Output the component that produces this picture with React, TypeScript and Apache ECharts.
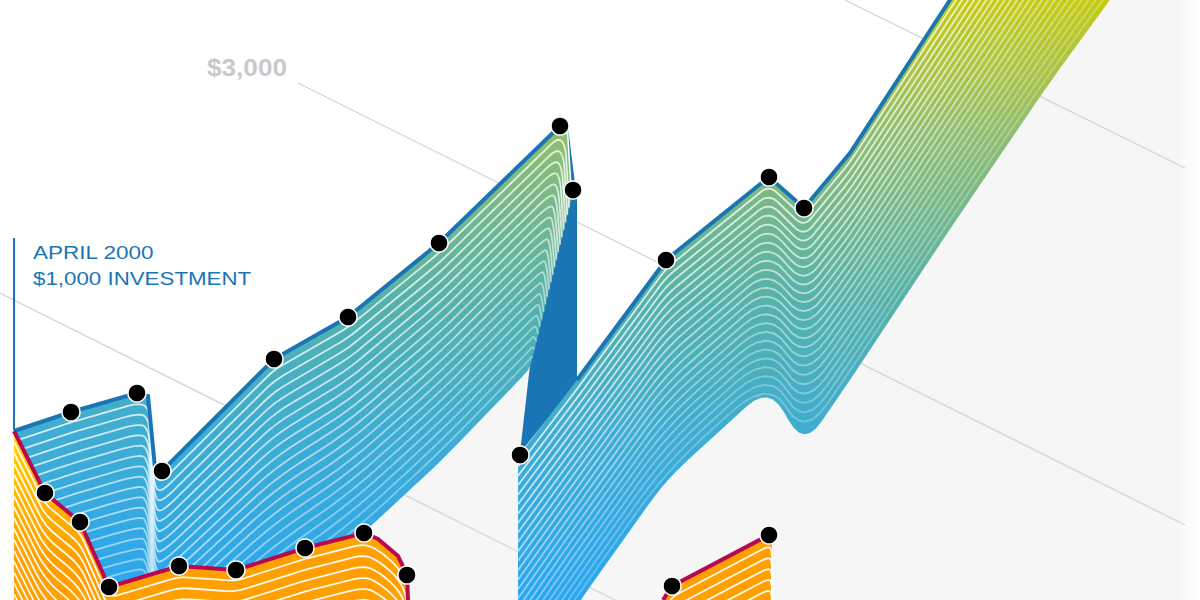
import React, { useEffect, useRef } from "react";
import * as echarts from "echarts";

type P = number[];

const valueLabel = "$3,000";
const noteLines = ["APRIL 2000", "$1,000 INVESTMENT"];

const gridLine1: P[] = [[845, 0], [1185, 168]];
const gridLine2: P[] = [[298, 83], [1185, 525]];
const gridLine3: P[] = [[0, 293], [615, 600]];
const startRule: P[] = [[14, 238], [14, 430]];

const floorOutline: P[] = [[360, 530], [530, 365], [520, 455], [577, 380], [666, 260], [769, 177], [804, 208], [850, 153], [950, 0], [1200, 0], [1200, 600], [360, 600]];

const ribbonATop: P[] = [[14, 431], [71, 412], [137, 393], [148, 396], [155, 468], [162, 471], [274, 359], [348, 317], [439, 243], [560, 126], [567, 135], [571, 200]];
const ribbonABottom: P[] = [[14, 660], [71, 640], [137, 620], [148, 622], [155, 694], [162, 696], [274, 600], [348, 547], [439, 463], [527, 372], [529, 368], [531, 364]];
const wedge: P[] = [[568, 127], [577, 200], [577, 382], [520, 453], [530, 365], [572, 190]];

const ribbonBTop: P[] = [[518, 457], [577, 380], [666, 260], [769, 177], [804, 208], [850, 153], [950, 0], [1050, -153], [1150, -306]];
const ribbonBBottom: P[] = [[518, 693], [577, 605], [666, 480], [769, 386], [804, 447], [850, 380], [950, 229], [1050, 82], [1150, -55]];

const orangeATop: P[] = [[14, 431], [45, 493], [80, 522], [109, 587], [179, 566], [236, 570], [305, 548], [364, 533], [378, 539], [398, 556], [407, 575], [408, 620]];
const orangeBTop: P[] = [[663, 600], [672, 586], [769, 535], [772, 540], [772, 620]];
const orangeDepth = 250;

const blueLineA: P[] = [[14, 431], [71, 412], [137, 393], [148, 396], [155, 468], [162, 471], [274, 359], [348, 317], [439, 243], [560, 126], [569, 128]];
const blueLineB: P[] = [[577, 380], [666, 260], [769, 177], [804, 208], [850, 153], [950, 0], [970, -30]];
const crimsonLineA: P[] = [[14, 431], [45, 493], [80, 522], [109, 587], [179, 566], [236, 570], [305, 548], [364, 533], [378, 539], [398, 556], [407, 575], [408, 600]];
const crimsonLineB: P[] = [[663, 600], [672, 586], [769, 535]];

const blueMarkers: P[] = [[71, 412], [137, 393], [162, 471], [274, 359], [348, 317], [439, 243], [560, 126], [573, 190], [520, 455], [666, 260], [769, 177], [804, 208]];
const crimsonMarkers: P[] = [[45, 493], [80, 522], [109, 587], [179, 566], [236, 570], [305, 548], [364, 533], [407, 575], [672, 586], [769, 535]];

const BLUE = "#1a75b5";
const CRIMSON = "#b8084f";

const blueFill = {
  type: "linear", x: 0, y: 0, x2: 0, y2: 600, global: true,
  colorStops: [
    { offset: 0, color: "#c6cb14" },
    { offset: 0.22, color: "#90be70" },
    { offset: 0.5, color: "#55b2aa" },
    { offset: 0.72, color: "#3fadd2" },
    { offset: 1, color: "#2aa6f0" },
  ],
};
const orangeFill = {
  type: "linear", x: 0, y: 430, x2: 0, y2: 560, global: true,
  colorStops: [
    { offset: 0, color: "#ffd800" },
    { offset: 0.6, color: "#ffb000" },
    { offset: 1, color: "#ff9f00" },
  ],
};
const floorFill = {
  type: "linear", x: 1178, y: 0, x2: 1200, y2: 0, global: true,
  colorStops: [
    { offset: 0, color: "#f6f6f7" },
    { offset: 1, color: "#ffffff" },
  ],
};

function roundCorners(pts: P[], d: number): P[] {
  if (d < 0.5) return pts;
  const out: P[] = [pts[0]];
  for (let i = 1; i < pts.length - 1; i++) {
    const [ax, ay] = pts[i - 1], [bx, by] = pts[i], [cx, cy] = pts[i + 1];
    const l1 = Math.hypot(bx - ax, by - ay), l2 = Math.hypot(cx - bx, cy - by);
    const d1 = Math.min(d, l1 / 2), d2 = Math.min(d, l2 / 2);
    const sx = bx - ((bx - ax) / l1) * d1, sy = by - ((by - ay) / l1) * d1;
    const ex = bx + ((cx - bx) / l2) * d2, ey = by + ((cy - by) / l2) * d2;
    for (let s = 0; s <= 6; s++) {
      const u = s / 6, v = 1 - u;
      out.push([v * v * sx + 2 * u * v * bx + u * u * ex, v * v * sy + 2 * u * v * by + u * u * ey]);
    }
  }
  out.push(pts[pts.length - 1]);
  return out;
}

function ribbon(top: P[], bottom: P[], count: number, fill: any, z: number, rounding: number, alphaTop: number, alphaBottom: number) {
  const items = Array.from({ length: count + 1 }, (_, i) => [i, i]);
  return {
    type: "custom",
    coordinateSystem: "cartesian2d",
    silent: true,
    z,
    data: items,
    encode: { x: 0, y: 1 },
    renderItem: (params: any, api: any) => {
      const i = params.dataIndex;
      if (i === 0) {
        const outline = [...top, ...roundCorners(bottom, rounding).slice().reverse()];
        return {
          type: "polygon",
          shape: { points: outline.map((p) => api.coord(p)) },
          style: { fill, stroke: "none" },
        };
      }
      const t = i / (count + 1);
      const mixed = top.map((p, n) => [p[0] + (bottom[n][0] - p[0]) * t, p[1] + (bottom[n][1] - p[1]) * t]);
      const rounded = roundCorners(mixed, 8 + t * rounding * 1.5);
      return {
        type: "polyline",
        shape: { points: rounded.map((p) => api.coord(p)) },
        style: { fill: "none", stroke: "#ffffff", lineWidth: 1.8, opacity: alphaTop + (alphaBottom - alphaTop) * t },
      };
    },
  };
}

function flatShape(points: P[], fill: any, z: number) {
  return {
    type: "custom",
    coordinateSystem: "cartesian2d",
    silent: true,
    z,
    data: [[0, 0]],
    encode: { x: 0, y: 1 },
    renderItem: (_: any, api: any) => ({
      type: "polygon",
      shape: { points: points.map((p) => api.coord(p)) },
      style: { fill, stroke: "none" },
    }),
  };
}

function stroke(data: P[], color: string, width: number, z: number) {
  return {
    type: "line", data, z, silent: true, symbol: "none",
    lineStyle: { color, width, join: "miter" },
  };
}

function markers(data: P[]) {
  return {
    type: "scatter", data, z: 20, silent: true, symbol: "circle", symbolSize: 18,
    itemStyle: { color: "#000000", borderColor: "#ffffff", borderWidth: 1.5, opacity: 1 },
  };
}

const below = (pts: P[]) => pts.map((p) => [p[0], p[1] + orangeDepth]);

export default function App() {
  const ref = useRef<HTMLDivElement>(null);
  useEffect(() => {
    document.body.style.margin = "0";
    const chart = echarts.init(ref.current!, undefined, { renderer: "svg" });
    chart.setOption({
      animation: false,
      backgroundColor: "#ffffff",
      grid: { left: 0, right: 0, top: 0, bottom: 0 },
      xAxis: { type: "value", min: 0, max: 1200, show: false },
      yAxis: { type: "value", min: 0, max: 600, inverse: true, show: false },
      series: [
        flatShape(floorOutline, floorFill, 1),
        stroke(gridLine1, "#d2d2d5", 1.2, 2),
        stroke(gridLine2, "#d2d2d5", 1.2, 2),
        stroke(gridLine3, "#d2d2d5", 1.2, 2),
        flatShape(wedge, BLUE, 3),
        ribbon(ribbonATop, ribbonABottom, 21, blueFill, 4, 30, 0.8, 0.35),
        stroke(blueLineA, BLUE, 4, 5),
        ribbon(ribbonBTop, ribbonBBottom, 24, blueFill, 6, 30, 0.8, 0.25),
        stroke(blueLineB, BLUE, 4, 7),
        ribbon(orangeATop, below(orangeATop), 22, orangeFill, 8, 22, 0.95, 0.85),
        ribbon(orangeBTop, below(orangeBTop), 22, orangeFill, 8, 6, 0.95, 0.85),
        stroke(crimsonLineA, CRIMSON, 4, 9),
        stroke(crimsonLineB, CRIMSON, 4, 9),
        stroke(startRule, BLUE, 2, 9),
        markers(blueMarkers),
        markers(crimsonMarkers),
      ],
      graphic: [
        {
          type: "text", x: 207, y: 55, z: 30, scaleX: 1.09,
          style: { text: valueLabel, fill: "#c9c9c9", font: 'bold 24px "Liberation Sans", Arial, sans-serif' },
        },
        {
          type: "text", x: 33, y: 244, z: 30, scaleX: 1.25,
          style: { text: noteLines[0], fill: BLUE, font: '18px "Liberation Sans", Arial, sans-serif' },
        },
        {
          type: "text", x: 33, y: 270, z: 30, scaleX: 1.24,
          style: { text: noteLines[1], fill: BLUE, font: '18px "Liberation Sans", Arial, sans-serif' },
        },
      ],
    });
    return () => chart.dispose();
  }, []);
  return <div ref={ref} style={{ position: "fixed", left: 0, top: 0, width: 1200, height: 600 }} />;
}
